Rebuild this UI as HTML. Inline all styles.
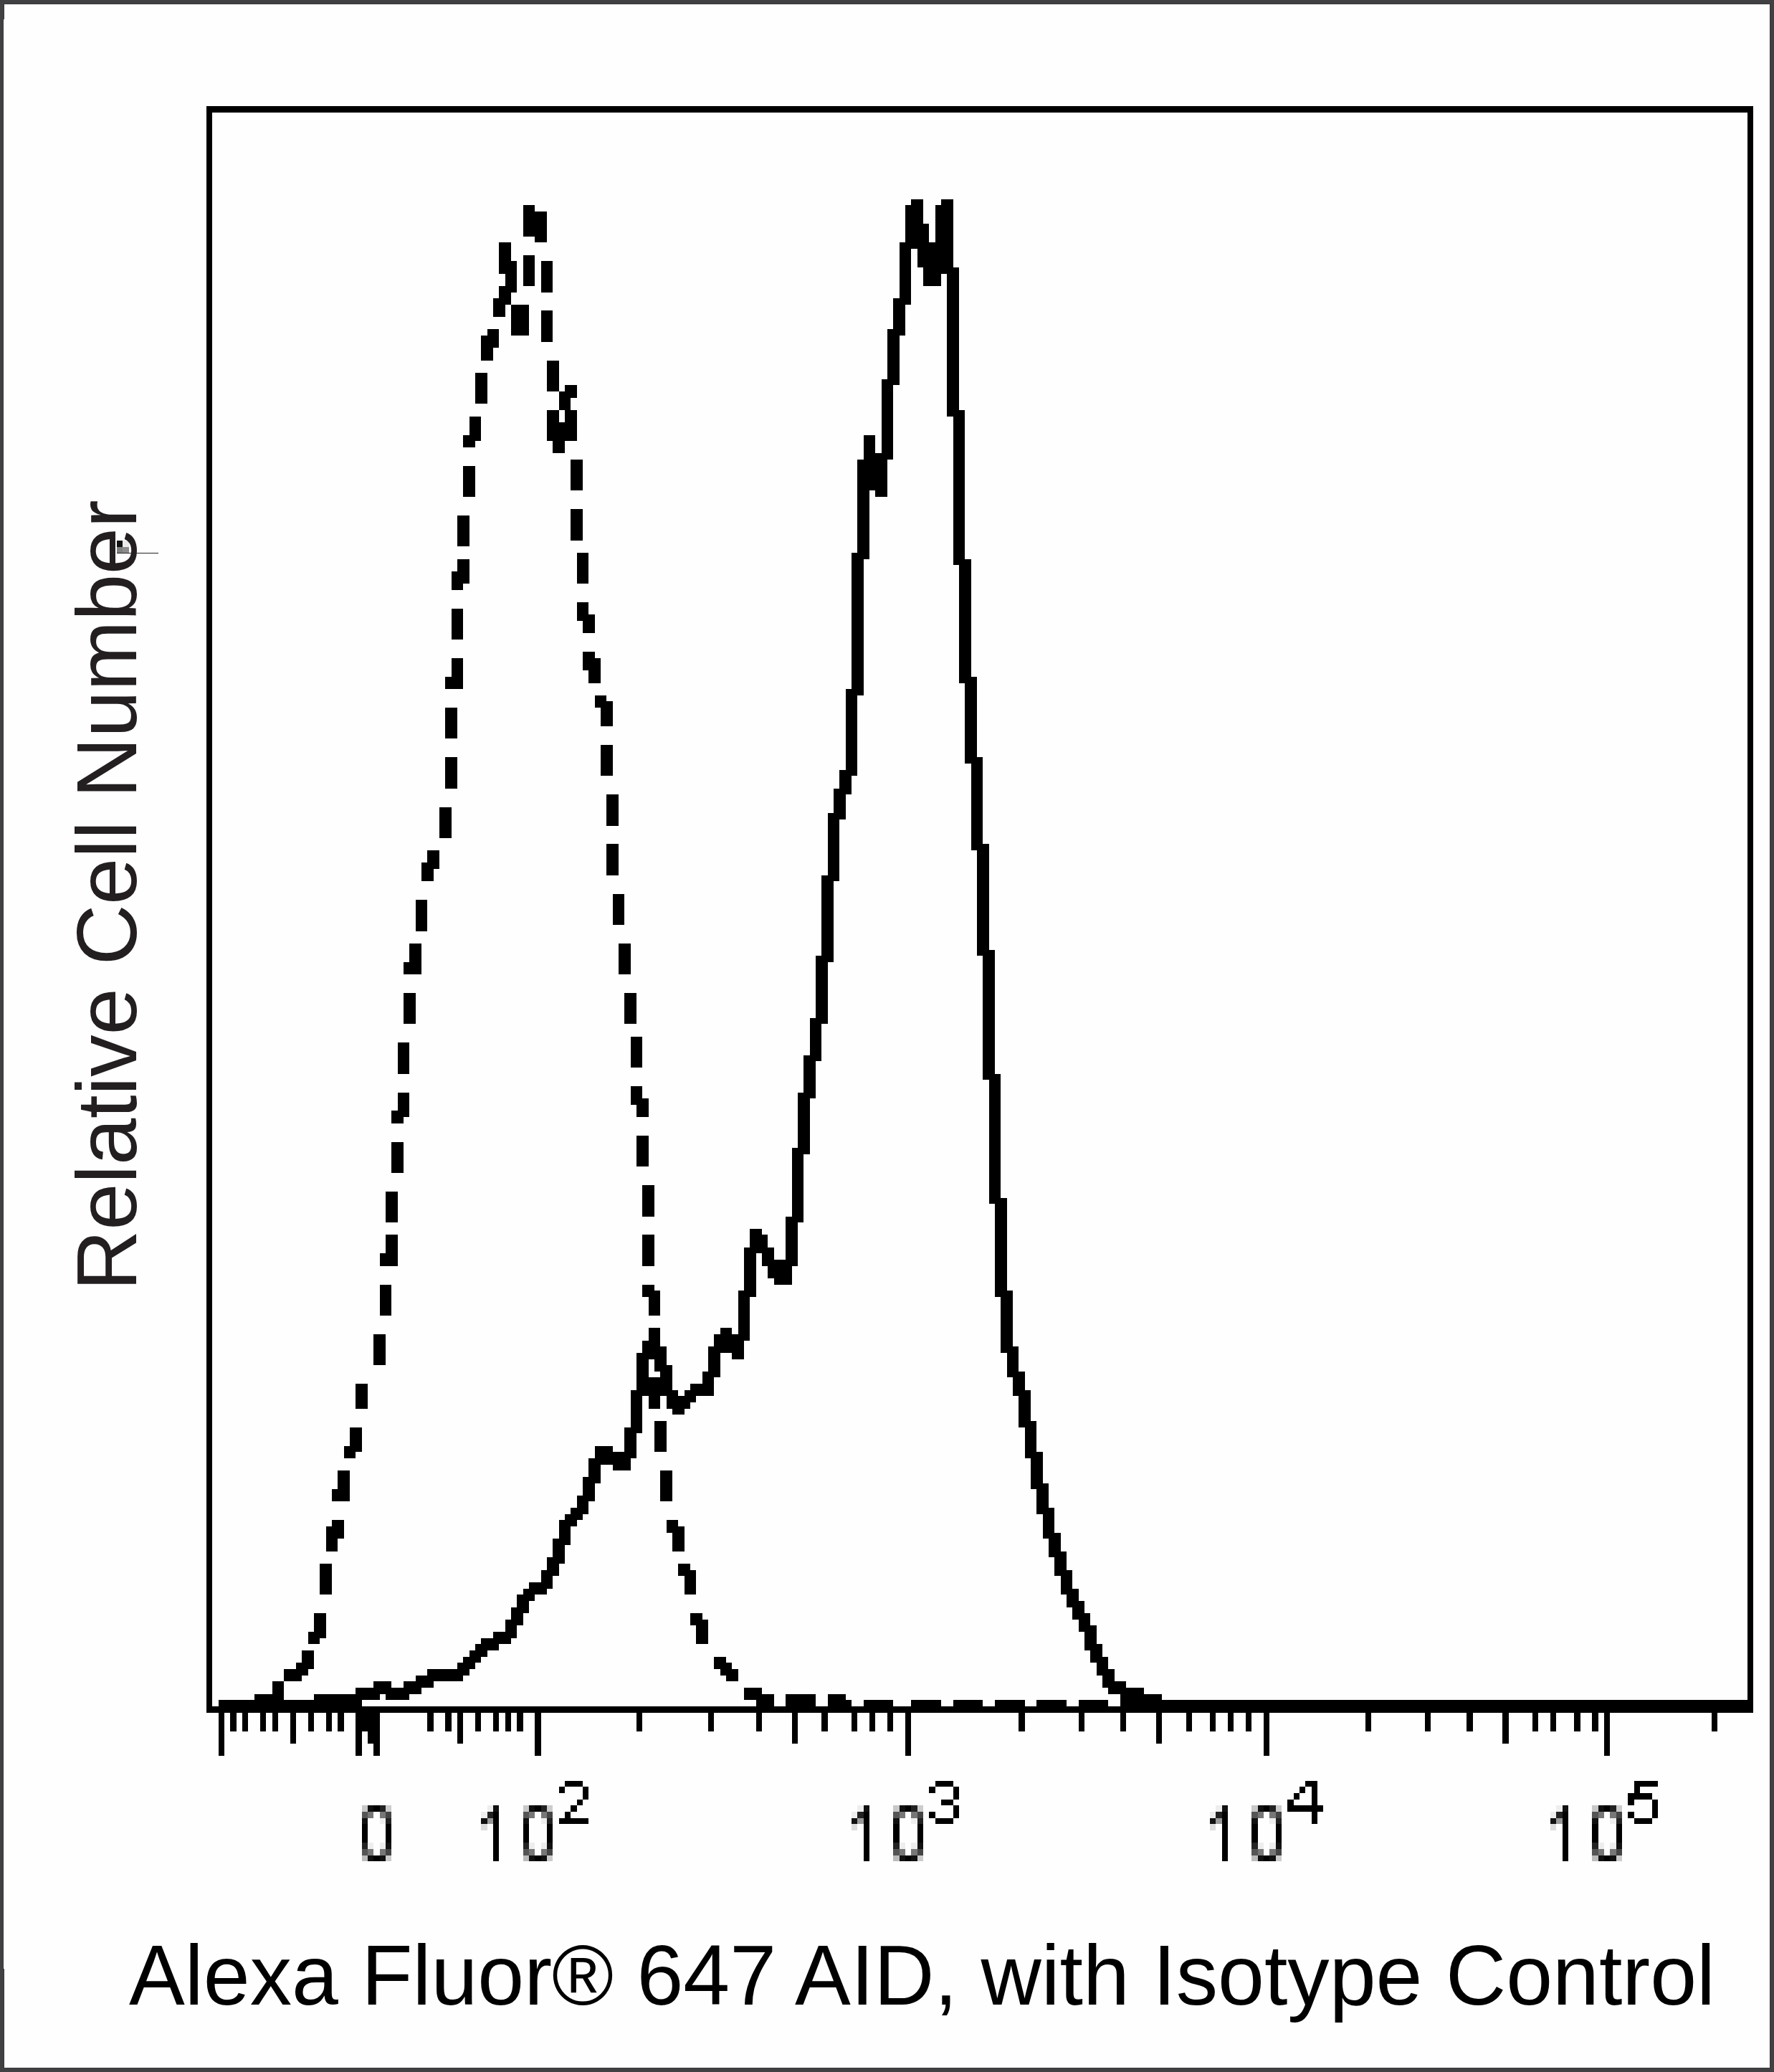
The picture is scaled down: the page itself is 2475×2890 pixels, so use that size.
<!DOCTYPE html>
<html><head><meta charset="utf-8"><title>Histogram</title>
<style>
html,body{margin:0;padding:0;background:#fff;}
body{width:2475px;height:2890px;overflow:hidden;position:relative;font-family:"Liberation Sans",sans-serif;}
svg{position:absolute;left:0;top:0;display:block;}
text{font-family:"Liberation Sans",sans-serif;}
</style></head><body>
<svg width="2475" height="2890" viewBox="0 0 2475 2890">
<rect x="0" y="0" width="2475" height="2890" fill="#fefefe"/>
<g shape-rendering="crispEdges">
<path fill="#414042" d="M0 0H2475V5H0ZM0 2885H2475V2890H0ZM2470 0H2475V2890H2470ZM0 0H4V2890H0ZM4 0H5V27H4ZM4 2746H5V2890H4Z"/>
<path fill="#38383a" d="M5 5H2470V6H5ZM5 2884H2470V2885H5ZM2469 5H2470V2885H2469ZM5 5H6V27H5ZM4 27H5V2746H4ZM5 2746H6V2885H5Z"/>
<path fill="#000" d="M288 148H2446V157H288ZM288 148H296V2389H288ZM2438 148H2446V2389H2438ZM288 2380H2446V2389H288ZM305 2389H313V2449H305ZM321 2389H330V2415H321ZM338 2389H346V2415H338ZM363 2389H371V2415H363ZM380 2389H388V2415H380ZM405 2389H413V2432H405ZM430 2389H438V2415H430ZM455 2389H463V2415H455ZM471 2389H480V2415H471ZM496 2389H505V2449H496ZM505 2389H513V2415H505ZM513 2389H521V2432H513ZM521 2389H530V2449H521ZM596 2389H605V2415H596ZM621 2389H630V2415H621ZM638 2389H646V2432H638ZM663 2389H671V2415H663ZM688 2389H696V2415H688ZM705 2389H713V2415H705ZM721 2389H730V2415H721ZM746 2389H755V2449H746ZM888 2389H896V2415H888ZM988 2389H996V2415H988ZM1055 2389H1063V2415H1055ZM1105 2389H1113V2432H1105ZM1146 2389H1155V2415H1146ZM1188 2389H1196V2415H1188ZM1213 2389H1221V2415H1213ZM1238 2389H1246V2415H1238ZM1263 2389H1271V2449H1263ZM1421 2389H1430V2415H1421ZM1505 2389H1513V2415H1505ZM1563 2389H1571V2415H1563ZM1613 2389H1621V2432H1613ZM1655 2389H1663V2415H1655ZM1688 2389H1696V2415H1688ZM1713 2389H1721V2415H1713ZM1738 2389H1746V2415H1738ZM1763 2389H1771V2449H1763ZM1905 2389H1913V2415H1905ZM1988 2389H1996V2415H1988ZM2046 2389H2055V2415H2046ZM2096 2389H2105V2432H2096ZM2138 2389H2146V2415H2138ZM2163 2389H2171V2415H2163ZM2196 2389H2205V2415H2196ZM2221 2389H2230V2415H2221ZM2238 2389H2246V2449H2238ZM2388 2389H2396V2415H2388ZM355 2363H380V2371H355ZM380 2345H396V2371H380ZM396 2328H421V2345H396ZM413 2319H430V2337H413ZM421 2302H438V2328H421ZM430 2276H446V2293H430ZM438 2250H455V2285H438ZM446 2181H463V2224H446ZM455 2129H471V2164H455ZM463 2120H480V2146H463ZM463 2077H488V2094H463ZM471 2051H488V2094H471ZM480 2017H496V2034H480ZM488 1999H505V2025H488ZM438 2363H505V2371H438ZM496 2354H530V2371H496ZM521 2345H546V2363H521ZM538 2354H571V2371H538ZM563 2345H588V2363H563ZM580 2337H605V2354H580ZM596 2328H646V2345H596ZM638 2319H655V2337H638ZM646 2311H663V2328H646ZM655 2302H671V2319H655ZM663 2293H680V2311H663ZM671 2285H696V2302H671ZM688 2276H713V2293H688ZM705 2259H721V2285H705ZM713 2242H730V2267H713ZM721 2224H738V2250H721ZM730 2216H746V2233H730ZM738 2207H763V2224H738ZM755 2190H771V2216H755ZM763 2172H780V2198H763ZM771 2146H788V2181H771ZM896 1653H913V1697H896ZM896 1722H913V1766H896ZM896 1792H913V1809H896ZM905 1800H921V1835H905ZM905 1852H921V1896H905ZM905 1921H921V1965H905ZM913 1982H930V2025H913ZM821 2034H838V2051H821ZM830 2017H855V2034H830ZM855 2025H880V2051H855ZM871 1991H888V2034H871ZM880 1939H896V1999H880ZM888 1887H905V1947H888ZM896 1870H913V1896H896ZM921 1878H930V1947H921ZM913 1870H921V1913H913ZM930 1904H938V1965H930ZM938 1939H946V1973H938ZM946 1947H955V1973H946ZM946 1947H963V1965H946ZM955 1939H971V1956H955ZM963 1930H996V1947H963ZM980 1913H996V1947H980ZM988 1878H1005V1921H988ZM996 1861H1013V1887H996ZM1005 1852H1021V1887H1005ZM1021 1861H1038V1896H1021ZM1030 1800H1046V1870H1030ZM1038 1740H1055V1809H1038ZM1046 1714H1063V1748H1046ZM1063 1722H1071V1766H1063ZM1071 1740H1080V1783H1071ZM1080 1757H1105V1792H1080ZM1096 1697H1113V1766H1096ZM1105 1653H1121V1705H1105ZM1105 1601H1121V1653H1105ZM1113 1524H1130V1610H1113ZM1121 1472H1138V1532H1121ZM1130 1420H1146V1480H1130ZM1138 1333H1155V1428H1138ZM1146 1247H1163V1342H1146ZM1363 1247H1380V1333H1363ZM1371 1325H1388V1506H1371ZM1380 1498H1396V1653H1380ZM771 2146H788V2181H771ZM780 2120H796V2155H780ZM788 2112H805V2129H788ZM796 2103H813V2120H796ZM805 2086H821V2112H805ZM813 2060H830V2094H813ZM821 2034H838V2069H821ZM830 2017H855V2043H830ZM855 2025H880V2051H855ZM871 1991H888V2034H871ZM880 1991H896V1999H880ZM913 1991H930V2025H913ZM921 2051H938V2094H921ZM930 2120H946V2138H930ZM938 2129H955V2164H938ZM946 2181H963V2198H946ZM955 2190H971V2224H955ZM963 2250H980V2267H963ZM971 2259H988V2293H971ZM996 2311H1013V2328H996ZM1005 2319H1021V2337H1005ZM1013 2328H1030V2345H1013ZM1038 2354H1063V2371H1038ZM1055 2363H1080V2380H1055ZM1096 2363H1138V2380H1096ZM1155 2363H1180V2380H1155ZM1171 2371H1188V2380H1171ZM1205 2371H1246V2380H1205ZM488 1991H505V2025H488ZM496 1930H513V1965H496ZM521 1861H538V1904H521ZM530 1792H546V1835H530ZM530 1748H555V1766H530ZM538 1722H555V1766H538ZM538 1662H555V1705H538ZM546 1593H563V1636H546ZM546 1549H563V1567H546ZM555 1524H571V1558H555ZM555 1454H571V1498H555ZM563 1420H580V1428H563ZM871 1420H888V1428H871ZM880 1446H896V1489H880ZM880 1515H896V1541H880ZM888 1532H905V1558H888ZM888 1584H905V1627H888ZM896 1653H913V1697H896ZM896 1722H913V1766H896ZM896 1792H913V1809H896ZM905 1800H921V1835H905ZM905 1852H921V1896H905ZM563 1385H580V1428H563ZM563 1342H588V1359H563ZM571 1316H588V1359H571ZM580 1255H596V1299H580ZM588 1203H605V1229H588ZM596 1186H613V1212H596ZM613 1126H630V1169H613ZM621 1056H638V1100H621ZM621 987H638V1030H621ZM621 944H646V961H621ZM630 918H646V961H630ZM630 849H646V892H630ZM805 840H821V866H805ZM813 857H830V883H813ZM813 909H830V935H813ZM821 918H838V953H821ZM830 970H846V987H830ZM838 978H855V1013H838ZM838 1039H855V1082H838ZM846 1108H863V1152H846ZM846 1177H863V1221H846ZM855 1247H871V1290H855ZM863 1316H880V1359H863ZM871 1385H888V1428H871ZM630 797H646V823H630ZM638 780H655V814H638ZM638 719H655V762H638ZM646 650H663V693H646ZM646 607H663V624H646ZM655 581H671V615H655ZM663 520H680V563H663ZM671 468H688V503H671ZM680 459H696V485H680ZM688 416H705V442H688ZM696 399H713V425H696ZM705 364H721V408H705ZM696 338H713V382H696ZM730 286H746V330H730ZM746 295H763V338H746ZM730 356H746V399H730ZM713 425H738V468H713ZM755 364H771V408H755ZM755 433H771V477H755ZM763 503H780V546H763ZM788 537H805V555H788ZM780 546H796V572H780ZM763 572H780V615H763ZM788 572H805V615H788ZM763 589H805V615H763ZM771 615H788V632H771ZM796 641H813V684H796ZM796 710H813V754H796ZM805 771H821V814H805ZM1146 1221H1163V1247H1146ZM1155 1134H1171V1229H1155ZM1163 1100H1180V1143H1163ZM1171 1074H1188V1108H1171ZM1180 961H1196V1082H1180ZM1188 771H1205V970H1188ZM1196 667H1213V780H1196ZM1196 667H1238V684H1196ZM1221 667H1238V693H1221ZM1330 667H1346V788H1330ZM1338 780H1355V953H1338ZM1346 944H1363V1065H1346ZM1355 1056H1371V1186H1355ZM1363 1177H1380V1247H1363ZM1196 641H1213V702H1196ZM1205 607H1221V641H1205ZM1196 641H1238V684H1196ZM1221 632H1238V693H1221ZM1230 529H1246V641H1230ZM1238 459H1255V537H1238ZM1246 416H1263V468H1246ZM1255 338H1271V425H1255ZM1263 286H1280V347H1263ZM1271 278H1288V347H1271ZM1280 312H1296V373H1280ZM1288 338H1313V399H1288ZM1305 286H1321V382H1305ZM1313 278H1330V373H1313ZM1321 373H1338V581H1321ZM1330 572H1346V702H1330ZM1380 1636H1396V1679H1380ZM1388 1671H1405V1809H1388ZM1396 1800H1413V1887H1396ZM1405 1878H1421V1921H1405ZM1413 1913H1430V1947H1413ZM1421 1939H1438V1991H1421ZM1430 1982H1446V2034H1430ZM1438 2025H1455V2077H1438ZM1446 2069H1463V2112H1446ZM1455 2103H1471V2146H1455ZM1463 2138H1480V2172H1463ZM1471 2164H1488V2198H1471ZM1480 2190H1496V2224H1480ZM1488 2216H1505V2224H1488ZM1446 2103H1463V2112H1446ZM1455 2103H1471V2146H1455ZM1463 2138H1480V2172H1463ZM1471 2164H1488V2198H1471ZM1480 2190H1496V2224H1480ZM1488 2216H1505V2242H1488ZM1496 2233H1513V2259H1496ZM1505 2250H1521V2276H1505ZM1513 2267H1530V2302H1513ZM1521 2293H1538V2319H1521ZM1530 2311H1546V2337H1530ZM1538 2328H1555V2354H1538ZM1546 2345H1571V2363H1546ZM1563 2354H1596V2371H1563ZM1563 2363H1621V2380H1563ZM305 2371H505V2380H305ZM1621 2371H2438V2380H1621ZM1271 2371H1313V2380H1271ZM1330 2371H1371V2380H1330ZM1388 2371H1430V2380H1388ZM1446 2371H1488V2380H1446ZM1505 2371H1546V2380H1505Z"/>
<path fill="#c8c8c8" d="M505 2518H513V2527H505ZM730 2518H738V2527H730ZM1246 2518H1255V2527H1246ZM1746 2518H1755V2527H1746ZM2221 2518H2230V2527H2221Z"/>
<path fill="#111111" d="M513 2518H521V2527H513ZM505 2536H513V2544H505ZM538 2570H546V2579H538ZM513 2588H521V2596H513ZM530 2588H538V2596H530ZM688 2518H696V2527H688ZM671 2536H680V2544H671ZM738 2518H746V2527H738ZM730 2536H738V2544H730ZM763 2570H771V2579H763ZM738 2588H746V2596H738ZM755 2588H763V2596H755ZM1205 2518H1213V2527H1205ZM1188 2536H1196V2544H1188ZM1255 2518H1263V2527H1255ZM1246 2536H1255V2544H1246ZM1280 2570H1288V2579H1280ZM1255 2588H1263V2596H1255ZM1271 2588H1280V2596H1271ZM1705 2518H1713V2527H1705ZM1688 2536H1696V2544H1688ZM1755 2518H1763V2527H1755ZM1746 2536H1755V2544H1746ZM1780 2570H1788V2579H1780ZM1755 2588H1763V2596H1755ZM1771 2588H1780V2596H1771ZM2180 2518H2188V2527H2180ZM2163 2536H2171V2544H2163ZM2230 2518H2238V2527H2230ZM2221 2536H2230V2544H2221ZM2255 2570H2263V2579H2255ZM2230 2588H2238V2596H2230ZM2246 2588H2255V2596H2246Z"/>
<path fill="#000000" d="M521 2518H530V2527H521ZM505 2544H513V2553H505ZM538 2544H546V2553H538ZM505 2553H513V2562H505ZM538 2553H546V2562H538ZM505 2562H513V2570H505ZM538 2562H546V2570H538ZM521 2588H530V2596H521ZM688 2527H696V2536H688ZM688 2536H696V2544H688ZM688 2544H696V2553H688ZM688 2553H696V2562H688ZM688 2562H696V2570H688ZM688 2570H696V2579H688ZM688 2579H696V2588H688ZM688 2588H696V2596H688ZM746 2518H755V2527H746ZM730 2544H738V2553H730ZM763 2544H771V2553H763ZM730 2553H738V2562H730ZM763 2553H771V2562H763ZM730 2562H738V2570H730ZM763 2562H771V2570H763ZM746 2588H755V2596H746ZM788 2484H813V2492H788ZM780 2492H788V2501H780ZM813 2492H821V2501H813ZM813 2501H821V2510H813ZM805 2510H813V2518H805ZM796 2518H805V2527H796ZM788 2527H796V2536H788ZM780 2536H821V2544H780ZM1205 2527H1213V2536H1205ZM1205 2536H1213V2544H1205ZM1205 2544H1213V2553H1205ZM1205 2553H1213V2562H1205ZM1205 2562H1213V2570H1205ZM1205 2570H1213V2579H1205ZM1205 2579H1213V2588H1205ZM1205 2588H1213V2596H1205ZM1263 2518H1271V2527H1263ZM1246 2544H1255V2553H1246ZM1280 2544H1288V2553H1280ZM1246 2553H1255V2562H1246ZM1280 2553H1288V2562H1280ZM1246 2562H1255V2570H1246ZM1280 2562H1288V2570H1280ZM1263 2588H1271V2596H1263ZM1305 2484H1330V2492H1305ZM1296 2492H1305V2501H1296ZM1330 2492H1338V2501H1330ZM1330 2501H1338V2510H1330ZM1313 2510H1330V2518H1313ZM1330 2518H1338V2527H1330ZM1296 2527H1305V2536H1296ZM1330 2527H1338V2536H1330ZM1305 2536H1330V2544H1305ZM1705 2527H1713V2536H1705ZM1705 2536H1713V2544H1705ZM1705 2544H1713V2553H1705ZM1705 2553H1713V2562H1705ZM1705 2562H1713V2570H1705ZM1705 2570H1713V2579H1705ZM1705 2579H1713V2588H1705ZM1705 2588H1713V2596H1705ZM1763 2518H1771V2527H1763ZM1746 2544H1755V2553H1746ZM1780 2544H1788V2553H1780ZM1746 2553H1755V2562H1746ZM1780 2553H1788V2562H1780ZM1746 2562H1755V2570H1746ZM1780 2562H1788V2570H1780ZM1763 2588H1771V2596H1763ZM1821 2484H1838V2492H1821ZM1813 2492H1821V2501H1813ZM1830 2492H1838V2501H1830ZM1805 2501H1813V2510H1805ZM1830 2501H1838V2510H1830ZM1796 2510H1805V2518H1796ZM1830 2510H1838V2518H1830ZM1796 2518H1846V2527H1796ZM1830 2527H1838V2536H1830ZM1830 2536H1838V2544H1830ZM2180 2527H2188V2536H2180ZM2180 2536H2188V2544H2180ZM2180 2544H2188V2553H2180ZM2180 2553H2188V2562H2180ZM2180 2562H2188V2570H2180ZM2180 2570H2188V2579H2180ZM2180 2579H2188V2588H2180ZM2180 2588H2188V2596H2180ZM2238 2518H2246V2527H2238ZM2221 2544H2230V2553H2221ZM2255 2544H2263V2553H2255ZM2221 2553H2230V2562H2221ZM2255 2553H2263V2562H2255ZM2221 2562H2230V2570H2221ZM2255 2562H2263V2570H2255ZM2238 2588H2246V2596H2238ZM2280 2484H2313V2492H2280ZM2280 2492H2288V2501H2280ZM2271 2501H2305V2510H2271ZM2271 2510H2280V2518H2271ZM2305 2510H2313V2518H2305ZM2305 2518H2313V2527H2305ZM2271 2527H2280V2536H2271ZM2305 2527H2313V2536H2305ZM2280 2536H2305V2544H2280Z"/>
<path fill="#222222" d="M530 2518H538V2527H530ZM538 2536H546V2544H538ZM505 2570H513V2579H505ZM680 2527H688V2536H680ZM755 2518H763V2527H755ZM763 2536H771V2544H763ZM730 2570H738V2579H730ZM1196 2527H1205V2536H1196ZM1271 2518H1280V2527H1271ZM1280 2536H1288V2544H1280ZM1246 2570H1255V2579H1246ZM1696 2527H1705V2536H1696ZM1771 2518H1780V2527H1771ZM1780 2536H1788V2544H1780ZM1746 2570H1755V2579H1746ZM2171 2527H2180V2536H2171ZM2246 2518H2255V2527H2246ZM2255 2536H2263V2544H2255ZM2221 2570H2230V2579H2221Z"/>
<path fill="#cccccc" d="M538 2518H546V2527H538ZM538 2588H546V2596H538ZM763 2518H771V2527H763ZM763 2588H771V2596H763ZM1280 2518H1288V2527H1280ZM1280 2588H1288V2596H1280ZM1780 2518H1788V2527H1780ZM1780 2588H1788V2596H1780ZM2255 2518H2263V2527H2255ZM2255 2588H2263V2596H2255Z"/>
<path fill="#555555" d="M505 2527H513V2536H505ZM505 2579H513V2588H505ZM730 2527H738V2536H730ZM730 2579H738V2588H730ZM1246 2527H1255V2536H1246ZM1246 2579H1255V2588H1246ZM1746 2527H1755V2536H1746ZM1746 2579H1755V2588H1746ZM2221 2527H2230V2536H2221ZM2221 2579H2230V2588H2221Z"/>
<path fill="#777777" d="M513 2527H521V2536H513ZM530 2527H538V2536H530ZM513 2579H521V2588H513ZM530 2579H538V2588H530ZM738 2527H746V2536H738ZM755 2527H763V2536H755ZM738 2579H746V2588H738ZM755 2579H763V2588H755ZM1255 2527H1263V2536H1255ZM1271 2527H1280V2536H1271ZM1255 2579H1263V2588H1255ZM1271 2579H1280V2588H1271ZM1755 2527H1763V2536H1755ZM1771 2527H1780V2536H1771ZM1755 2579H1763V2588H1755ZM1771 2579H1780V2588H1771ZM2230 2527H2238V2536H2230ZM2246 2527H2255V2536H2246ZM2230 2579H2238V2588H2230ZM2246 2579H2255V2588H2246Z"/>
<path fill="#444444" d="M538 2527H546V2536H538ZM538 2579H546V2588H538ZM763 2527H771V2536H763ZM763 2579H771V2588H763ZM1280 2527H1288V2536H1280ZM1280 2579H1288V2588H1280ZM1780 2527H1788V2536H1780ZM1780 2579H1788V2588H1780ZM2255 2527H2263V2536H2255ZM2255 2579H2263V2588H2255Z"/>
<path fill="#eeeeee" d="M530 2536H538V2544H530ZM513 2570H521V2579H513ZM530 2570H538V2579H530ZM680 2518H688V2527H680ZM671 2527H680V2536H671ZM755 2536H763V2544H755ZM738 2570H746V2579H738ZM755 2570H763V2579H755ZM1196 2518H1205V2527H1196ZM1188 2527H1196V2536H1188ZM1271 2536H1280V2544H1271ZM1255 2570H1263V2579H1255ZM1271 2570H1280V2579H1271ZM1696 2518H1705V2527H1696ZM1688 2527H1696V2536H1688ZM1771 2536H1780V2544H1771ZM1755 2570H1763V2579H1755ZM1771 2570H1780V2579H1771ZM2171 2518H2180V2527H2171ZM2163 2527H2171V2536H2163ZM2246 2536H2255V2544H2246ZM2230 2570H2238V2579H2230ZM2246 2570H2255V2579H2246Z"/>
<path fill="#bbbbbb" d="M505 2588H513V2596H505ZM730 2588H738V2596H730ZM1246 2588H1255V2596H1246ZM1746 2588H1755V2596H1746ZM2221 2588H2230V2596H2221Z"/>
<path fill="#999999" d="M680 2536H688V2544H680ZM1196 2536H1205V2544H1196ZM1696 2536H1705V2544H1696ZM2171 2536H2180V2544H2171Z"/>
<path fill="#dddddd" d="M671 2544H680V2553H671ZM1188 2544H1196V2553H1188ZM1688 2544H1696V2553H1688ZM2163 2544H2171V2553H2163Z"/>

<rect x="163" y="754" width="8" height="9" fill="#111"/>
<rect x="171" y="754" width="9" height="9" fill="#eaeaea"/>
<rect x="163" y="763" width="8" height="8" fill="#808080"/>
<rect x="171" y="763" width="9" height="8" fill="#8c8c8c"/>
<rect x="163" y="771" width="58" height="1" fill="#222"/>
</g>
<text transform="translate(190 1800.3) rotate(-90) scale(1 1.015)" font-size="117.3" fill="#231f20" textLength="1103.2" lengthAdjust="spacing">Relative Cell Number</text>
<text transform="translate(180 2796) scale(1 1.005)" font-size="118" fill="#000" textLength="2213" lengthAdjust="spacingAndGlyphs">Alexa Fluor® 647 AID, with Isotype Control</text>
</svg>
</body></html>
